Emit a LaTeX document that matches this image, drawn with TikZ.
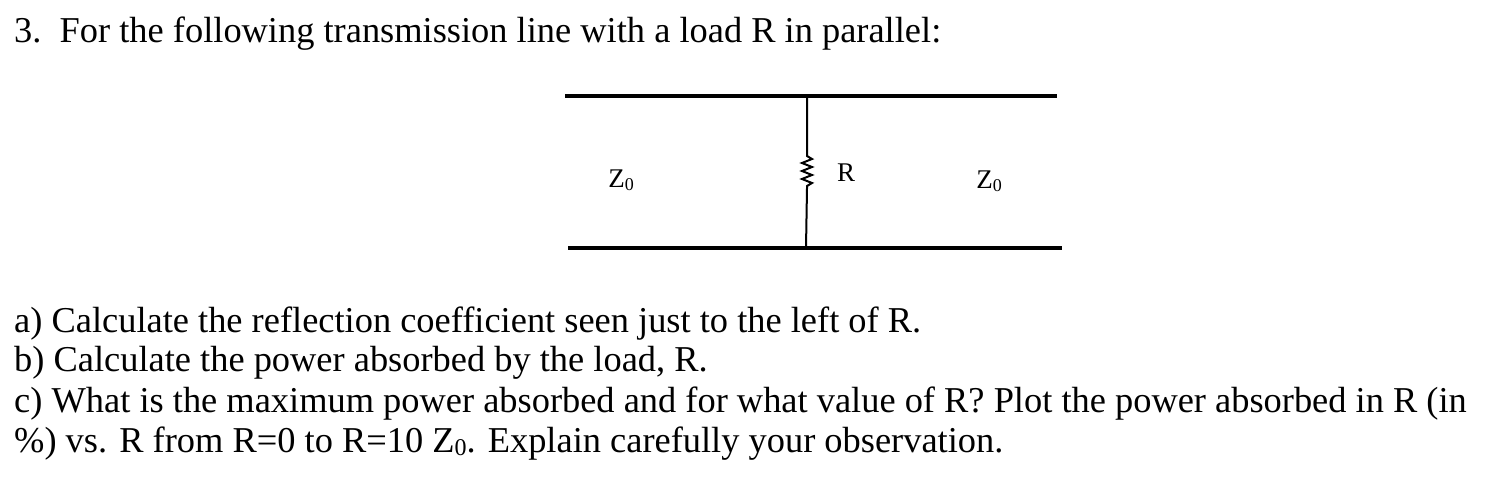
\documentclass[tikz,border=0pt]{standalone}
\usepackage{fontspec}
\setmainfont{Liberation Serif}
\begin{document}
\begin{tikzpicture}[x=1pt,y=-1pt,
  txt/.style={anchor=base west,inner sep=0pt,font=\fontsize{36.4}{40}\selectfont},
  lbl/.style={inner sep=0pt,font=\fontsize{27}{30}\selectfont},
  wire/.style={line width=3.2pt},
  thin/.style={line width=2pt}]
\useasboundingbox (0,0) rectangle (1504,496);
\node[txt] (t) at (14,42) {3.\ \ For the following transmission line with a load R in parallel:};
\coordinate (tl) at (565,96); \coordinate (tr) at (1057,96);
\coordinate (bl) at (568,248); \coordinate (br) at (1062,248);
\coordinate (rt) at (807,96); \coordinate (rb) at (806,248);
\coordinate (r1) at (807,153); \coordinate (r2) at (807,188);
\draw[wire] (tl) -- (tr);
\draw[wire] (bl) -- (br);
\draw[thin] (rt) -- (r1) -- (807,156) -- (812,159) -- (802,163) -- (812,167) -- (802,171) -- (812,175) -- (802,179) -- (812,183) -- (807,186) -- (r2) -- (rb);
\node[lbl] (z1) at (621,180) {Z\raisebox{-0.25ex}{\fontsize{18}{20}\selectfont 0}};
\node[lbl] (rr) at (846,173) {R};
\node[lbl] (z2) at (989,181) {Z\raisebox{-0.25ex}{\fontsize{18}{20}\selectfont 0}};
\node[txt] (a) at (14,332) {a) Calculate the reflection coefficient seen just to the left of R.};
\node[txt] (b) at (14,371) {b) Calculate the power absorbed by the load, R.};
\node[txt] (c) at (14,412) {c) What is the maximum power absorbed and for what value of R? Plot the power absorbed in R (in};
\node[txt] (d) at (14,452) {\%) vs. R from R=0 to R=10 Z\raisebox{-0.2ex}{\fontsize{24}{26}\selectfont 0}. Explain carefully your observation.};
\end{tikzpicture}
\end{document}
